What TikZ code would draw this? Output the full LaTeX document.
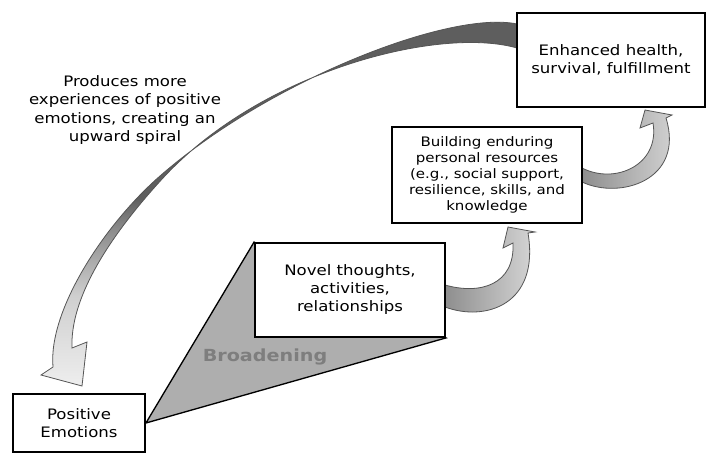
\documentclass[tikz,border=0pt]{standalone}
\usepackage{fontspec}
\setmainfont{DejaVu Sans}[FakeStretch=1.15]
\usetikzlibrary{backgrounds}
\definecolor{rl}{HTML}{EEEEEE}
\definecolor{rm}{HTML}{CFCFCF}
\definecolor{rg}{HTML}{8A8A8A}
\definecolor{rd}{HTML}{5E5E5E}
\definecolor{redge}{HTML}{555555}
\definecolor{tri}{HTML}{AEAEAE}
\definecolor{broad}{HTML}{7E7E7E}
\definecolor{sl}{HTML}{8E8E8E}
\definecolor{sr}{HTML}{DADADA}
\pgfdeclareverticalshading{bigribbon}{100bp}{color(0bp)=(rl); color(25bp)=(rl); color(37bp)=(rm); color(46bp)=(rg); color(50bp)=(rd); color(100bp)=(rd)}
\begin{document}
\begin{tikzpicture}[x=0.75pt,y=-0.75pt,
  box/.style={draw=black, line width=1.4pt, fill=white, align=center, inner sep=0pt,
    font=\fontsize{10.8}{13.5}\selectfont},
  lbl/.style={align=center, inner sep=0pt, font=\fontsize{10.8}{13.8}\selectfont},
  ribbon/.style={draw=redge, line width=0.6pt},
  smallarrow/.style={ribbon, left color=sl, right color=sr}]
\useasboundingbox (0,0) rectangle (720,466);

\node[box, minimum width=141pt, minimum height=70.5pt] (enh) at (611,60) {Enhanced health,\\survival, fulfillment};
\node[box, minimum width=142.5pt, minimum height=72pt,
  font=\fontsize{9.8}{12}\selectfont] (bld) at (487,175)
  {Building enduring\\personal resources\\(e.g., social support,\\resilience, skills, and\\knowledge};
\node[box, minimum width=142.5pt, minimum height=70.5pt] (nov) at (350,290) {Novel thoughts,\\activities,\\relationships};
\node[box, minimum width=99pt, minimum height=43.5pt] (pos) at (79,423) {Positive\\Emotions};

\node[lbl] (prod) at (125,110) {Produces more\\experiences of positive\\emotions, creating an\\upward spiral};

\begin{scope}[on background layer]
  \fill[white] (0,0) rectangle (720,466);
  % broadening triangle
  \draw[fill=tri, line width=1pt] (pos.east) -- (nov.north west) -- (nov.south east) -- cycle;
  % big spiral arrow
  \path[ribbon, shading=bigribbon]
    (517,24) .. controls (450,10) and (270,80) .. (160,176)
    .. controls (105,224) and (48,310) .. (53,367)
    -- (41,375) -- (82,386) -- (87,342) -- (72,348)
    .. controls (70,300) and (106,240) .. (163,178)
    .. controls (263,70) and (440,26) .. (517,48) -- cycle;
  % novel -> building
  \path[smallarrow]
    (445,307) .. controls (485,322) and (540,305) .. (528,233)
    -- (535,232) -- (508,227) -- (503,248) -- (513,243)
    .. controls (515,285) and (480,295) .. (445,285) -- cycle;
  % building -> enhanced
  \path[smallarrow]
    (582,182) .. controls (620,200) and (685,180) .. (666,118)
    -- (672,115) -- (645,110) -- (640,128) -- (653,123)
    .. controls (660,165) and (615,185) .. (582,168) -- cycle;
\end{scope}

\node[inner sep=0pt, text=broad, font=\fontsize{12.5}{14}\selectfont\bfseries] (brd) at (265,357) {Broadening};
\end{tikzpicture}
\end{document}
